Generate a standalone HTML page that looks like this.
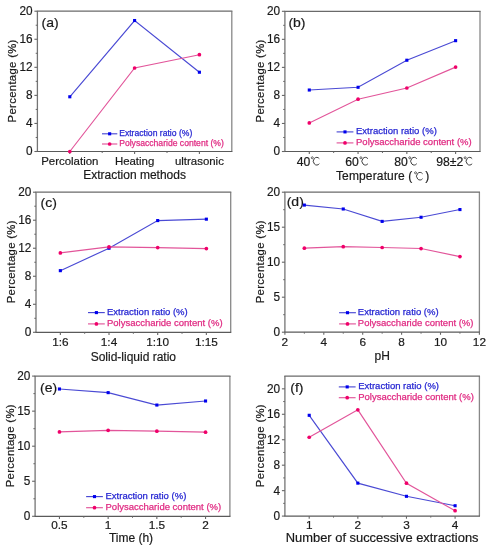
<!DOCTYPE html>
<html><head><meta charset="utf-8"><style>
html,body{margin:0;padding:0;background:#fff;}
svg{display:block;filter:blur(0.35px);}
text.k{stroke-width:0.2px;}
.k{stroke:#1a1a1a;}
</style></head><body>
<svg width="490" height="550" viewBox="0 0 490 550" font-family='"Liberation Sans", sans-serif' fill="#1a1a1a" stroke="none">
<rect x="0" y="0" width="490" height="550" fill="#ffffff"/>
<path d="M231.8,11.2 V151.5" fill="none" stroke="#888888" stroke-width="1.3"/>
<path d="M37.4,151.5 V11.2" fill="none" stroke="#747474" stroke-width="1.3"/>
<path d="M36.8,11.2 H232.4" fill="none" stroke="#6a6a6a" stroke-width="1.25"/>
<path d="M36.8,151.5 H232.4" fill="none" stroke="#5a5a5a" stroke-width="1.2"/>
<line x1="34.4" y1="151.5" x2="37.4" y2="151.5" stroke="#666666" stroke-width="1.1"/>
<text class="k" transform="translate(32.7,155.45) scale(0.93,1)" text-anchor="end" font-size="12.7">0</text>
<line x1="34.4" y1="123.44" x2="37.4" y2="123.44" stroke="#666666" stroke-width="1.1"/>
<text class="k" transform="translate(32.7,127.39) scale(0.93,1)" text-anchor="end" font-size="12.7">4</text>
<line x1="34.4" y1="95.38" x2="37.4" y2="95.38" stroke="#666666" stroke-width="1.1"/>
<text class="k" transform="translate(32.7,99.33) scale(0.93,1)" text-anchor="end" font-size="12.7">8</text>
<line x1="34.4" y1="67.32" x2="37.4" y2="67.32" stroke="#666666" stroke-width="1.1"/>
<text class="k" transform="translate(32.7,71.27) scale(0.93,1)" text-anchor="end" font-size="12.7">12</text>
<line x1="34.4" y1="39.26" x2="37.4" y2="39.26" stroke="#666666" stroke-width="1.1"/>
<text class="k" transform="translate(32.7,43.21) scale(0.93,1)" text-anchor="end" font-size="12.7">16</text>
<line x1="34.4" y1="11.2" x2="37.4" y2="11.2" stroke="#666666" stroke-width="1.1"/>
<text class="k" transform="translate(32.7,15.15) scale(0.93,1)" text-anchor="end" font-size="12.7">20</text>
<line x1="35.7" y1="137.47" x2="37.4" y2="137.47" stroke="#666666" stroke-width="1"/>
<line x1="35.7" y1="109.41" x2="37.4" y2="109.41" stroke="#666666" stroke-width="1"/>
<line x1="35.7" y1="81.35" x2="37.4" y2="81.35" stroke="#666666" stroke-width="1"/>
<line x1="35.7" y1="53.29" x2="37.4" y2="53.29" stroke="#666666" stroke-width="1"/>
<line x1="35.7" y1="25.23" x2="37.4" y2="25.23" stroke="#666666" stroke-width="1"/>
<line x1="69.8" y1="151.5" x2="69.8" y2="154.1" stroke="#666666" stroke-width="1.1"/>
<text class="k" x="69.8" y="164.6" text-anchor="middle" font-size="11.45">Percolation</text>
<line x1="134.6" y1="151.5" x2="134.6" y2="154.1" stroke="#666666" stroke-width="1.1"/>
<text class="k" x="134.6" y="164.6" text-anchor="middle" font-size="11.45">Heating</text>
<line x1="199.4" y1="151.5" x2="199.4" y2="154.1" stroke="#666666" stroke-width="1.1"/>
<text class="k" x="199.4" y="164.6" text-anchor="middle" font-size="11.45">ultrasonic</text>
<line x1="102.2" y1="151.5" x2="102.2" y2="153" stroke="#666666" stroke-width="1"/>
<line x1="167" y1="151.5" x2="167" y2="153" stroke="#666666" stroke-width="1"/>
<text class="k" transform="translate(16,80.85) rotate(-90)" text-anchor="middle" font-size="11.3" letter-spacing="0.33">Percentage (%)</text>
<text class="k" x="134.6" y="179.1" text-anchor="middle" font-size="12">Extraction methods</text>
<text class="k" transform="translate(41.5,27) scale(1.03,1)" font-size="13.6">(a)</text>
<polyline points="69.8,96.78 134.6,20.53 199.4,72.23" fill="none" stroke="#4a4ad4" stroke-width="1.15"/>
<rect x="68.25" y="95.23" width="3.1" height="3.1" fill="#0000ee"/>
<rect x="133.05" y="18.98" width="3.1" height="3.1" fill="#0000ee"/>
<rect x="197.85" y="70.68" width="3.1" height="3.1" fill="#0000ee"/>
<polyline points="69.8,151.5 134.6,68.02 199.4,54.69" fill="none" stroke="#e2559a" stroke-width="1.15"/>
<circle cx="69.8" cy="151.5" r="1.85" fill="#f0006a"/>
<circle cx="134.6" cy="68.02" r="1.85" fill="#f0006a"/>
<circle cx="199.4" cy="54.69" r="1.85" fill="#f0006a"/>
<line x1="102" y1="133.8" x2="117.3" y2="133.8" stroke="#4a4ad4" stroke-width="1.15"/>
<rect x="108.1" y="132.25" width="3.1" height="3.1" fill="#0000ee"/>
<text x="119.21" y="136.02" font-size="8.6" fill="#2626d2" stroke="#2626d2" stroke-width="0.25">Extraction ratio (%)</text>
<line x1="102" y1="144" x2="117.3" y2="144" stroke="#e2559a" stroke-width="1.15"/>
<circle cx="109.65" cy="144" r="1.85" fill="#f0006a"/>
<text x="119.21" y="146.22" font-size="8.6" fill="#e02a82" stroke="#e02a82" stroke-width="0.25">Polysaccharide content (%)</text>
<path d="M480,11.3 V151.5" fill="none" stroke="#888888" stroke-width="1.3"/>
<path d="M284.9,151.5 V11.3" fill="none" stroke="#747474" stroke-width="1.3"/>
<path d="M284.3,11.3 H480.6" fill="none" stroke="#6a6a6a" stroke-width="1.25"/>
<path d="M284.3,151.5 H480.6" fill="none" stroke="#5a5a5a" stroke-width="1.2"/>
<line x1="281.9" y1="151.5" x2="284.9" y2="151.5" stroke="#666666" stroke-width="1.1"/>
<text class="k" transform="translate(280.2,155.1) scale(0.93,1)" text-anchor="end" font-size="12.7">0</text>
<line x1="281.9" y1="123.46" x2="284.9" y2="123.46" stroke="#666666" stroke-width="1.1"/>
<text class="k" transform="translate(280.2,127.06) scale(0.93,1)" text-anchor="end" font-size="12.7">4</text>
<line x1="281.9" y1="95.42" x2="284.9" y2="95.42" stroke="#666666" stroke-width="1.1"/>
<text class="k" transform="translate(280.2,99.02) scale(0.93,1)" text-anchor="end" font-size="12.7">8</text>
<line x1="281.9" y1="67.38" x2="284.9" y2="67.38" stroke="#666666" stroke-width="1.1"/>
<text class="k" transform="translate(280.2,70.98) scale(0.93,1)" text-anchor="end" font-size="12.7">12</text>
<line x1="281.9" y1="39.34" x2="284.9" y2="39.34" stroke="#666666" stroke-width="1.1"/>
<text class="k" transform="translate(280.2,42.94) scale(0.93,1)" text-anchor="end" font-size="12.7">16</text>
<line x1="281.9" y1="11.3" x2="284.9" y2="11.3" stroke="#666666" stroke-width="1.1"/>
<text class="k" transform="translate(280.2,14.9) scale(0.93,1)" text-anchor="end" font-size="12.7">20</text>
<line x1="283.2" y1="137.48" x2="284.9" y2="137.48" stroke="#666666" stroke-width="1"/>
<line x1="283.2" y1="109.44" x2="284.9" y2="109.44" stroke="#666666" stroke-width="1"/>
<line x1="283.2" y1="81.4" x2="284.9" y2="81.4" stroke="#666666" stroke-width="1"/>
<line x1="283.2" y1="53.36" x2="284.9" y2="53.36" stroke="#666666" stroke-width="1"/>
<line x1="283.2" y1="25.32" x2="284.9" y2="25.32" stroke="#666666" stroke-width="1"/>
<line x1="309.29" y1="151.5" x2="309.29" y2="154.1" stroke="#666666" stroke-width="1.1"/>
<text class="k" x="296.7" y="165.5" font-size="12.2">40</text>
<circle cx="312.29" cy="157.78" r="1.0" fill="none" stroke="#333333" stroke-width="0.75"/>
<path d="M319.33,158.73 A3.38,3.86 0 1 0 319.33,163.69" fill="none" stroke="#333333" stroke-width="0.95"/>
<line x1="358.06" y1="151.5" x2="358.06" y2="154.1" stroke="#666666" stroke-width="1.1"/>
<text class="k" x="345.31" y="165.5" font-size="12.2">60</text>
<circle cx="360.9" cy="157.78" r="1.0" fill="none" stroke="#333333" stroke-width="0.75"/>
<path d="M367.93,158.73 A3.38,3.86 0 1 0 367.93,163.69" fill="none" stroke="#333333" stroke-width="0.95"/>
<line x1="406.84" y1="151.5" x2="406.84" y2="154.1" stroke="#666666" stroke-width="1.1"/>
<text class="k" x="394.13" y="165.5" font-size="12.2">80</text>
<circle cx="409.72" cy="157.78" r="1.0" fill="none" stroke="#333333" stroke-width="0.75"/>
<path d="M416.75,158.73 A3.38,3.86 0 1 0 416.75,163.69" fill="none" stroke="#333333" stroke-width="0.95"/>
<line x1="455.61" y1="151.5" x2="455.61" y2="154.1" stroke="#666666" stroke-width="1.1"/>
<text class="k" x="436.21" y="165.5" font-size="12.2">98±2</text>
<circle cx="465.15" cy="157.78" r="1.0" fill="none" stroke="#333333" stroke-width="0.75"/>
<path d="M472.18,158.73 A3.38,3.86 0 1 0 472.18,163.69" fill="none" stroke="#333333" stroke-width="0.95"/>
<line x1="333.67" y1="151.5" x2="333.67" y2="153" stroke="#666666" stroke-width="1"/>
<line x1="382.45" y1="151.5" x2="382.45" y2="153" stroke="#666666" stroke-width="1"/>
<line x1="431.23" y1="151.5" x2="431.23" y2="153" stroke="#666666" stroke-width="1"/>
<text class="k" transform="translate(263.5,80.9) rotate(-90)" text-anchor="middle" font-size="11.3" letter-spacing="0.33">Percentage (%)</text>
<text class="k" x="335.98" y="179.5" font-size="12" letter-spacing="0.14">Temperature (</text>
<circle cx="415.54" cy="172.8" r="1.0" fill="none" stroke="#333333" stroke-width="0.75"/>
<path d="M422.57,173.74 A3.38,3.82 0 1 0 422.57,178.66" fill="none" stroke="#333333" stroke-width="0.95"/>
<text class="k" x="425.36" y="179.5" font-size="12">)</text>
<text class="k" transform="translate(288.38,26.9) scale(1.03,1)" font-size="13.6">(b)</text>
<polyline points="309.29,90.02 358.06,87.29 406.84,60.23 455.61,40.67" fill="none" stroke="#4a4ad4" stroke-width="1.15"/>
<rect x="307.74" y="88.47" width="3.1" height="3.1" fill="#0000ee"/>
<rect x="356.51" y="85.74" width="3.1" height="3.1" fill="#0000ee"/>
<rect x="405.29" y="58.68" width="3.1" height="3.1" fill="#0000ee"/>
<rect x="454.06" y="39.12" width="3.1" height="3.1" fill="#0000ee"/>
<polyline points="309.29,122.9 358.06,99.21 406.84,87.99 455.61,67.1" fill="none" stroke="#e2559a" stroke-width="1.15"/>
<circle cx="309.29" cy="122.9" r="1.85" fill="#f0006a"/>
<circle cx="358.06" cy="99.21" r="1.85" fill="#f0006a"/>
<circle cx="406.84" cy="87.99" r="1.85" fill="#f0006a"/>
<circle cx="455.61" cy="67.1" r="1.85" fill="#f0006a"/>
<line x1="336.6" y1="131.9" x2="353.4" y2="131.9" stroke="#4a4ad4" stroke-width="1.15"/>
<rect x="343.45" y="130.35" width="3.1" height="3.1" fill="#0000ee"/>
<text x="356.04" y="134.43" font-size="9.5" fill="#2626d2" stroke="#2626d2" stroke-width="0.25">Extraction ratio (%)</text>
<line x1="336.6" y1="142.9" x2="353.4" y2="142.9" stroke="#e2559a" stroke-width="1.15"/>
<circle cx="345" cy="142.9" r="1.85" fill="#f0006a"/>
<text x="356.04" y="145.43" font-size="9.5" fill="#e02a82" stroke="#e02a82" stroke-width="0.25">Polysaccharide content (%)</text>
<path d="M230.7,192.2 V332.3" fill="none" stroke="#888888" stroke-width="1.3"/>
<path d="M36,332.3 V192.2" fill="none" stroke="#747474" stroke-width="1.3"/>
<path d="M35.4,192.2 H231.3" fill="none" stroke="#6a6a6a" stroke-width="1.25"/>
<path d="M35.4,332.3 H231.3" fill="none" stroke="#5a5a5a" stroke-width="1.2"/>
<line x1="33" y1="332.3" x2="36" y2="332.3" stroke="#666666" stroke-width="1.1"/>
<text class="k" transform="translate(31.3,336.25) scale(0.93,1)" text-anchor="end" font-size="12.7">0</text>
<line x1="33" y1="304.28" x2="36" y2="304.28" stroke="#666666" stroke-width="1.1"/>
<text class="k" transform="translate(31.3,308.23) scale(0.93,1)" text-anchor="end" font-size="12.7">4</text>
<line x1="33" y1="276.26" x2="36" y2="276.26" stroke="#666666" stroke-width="1.1"/>
<text class="k" transform="translate(31.3,280.21) scale(0.93,1)" text-anchor="end" font-size="12.7">8</text>
<line x1="33" y1="248.24" x2="36" y2="248.24" stroke="#666666" stroke-width="1.1"/>
<text class="k" transform="translate(31.3,252.19) scale(0.93,1)" text-anchor="end" font-size="12.7">12</text>
<line x1="33" y1="220.22" x2="36" y2="220.22" stroke="#666666" stroke-width="1.1"/>
<text class="k" transform="translate(31.3,224.17) scale(0.93,1)" text-anchor="end" font-size="12.7">16</text>
<line x1="33" y1="192.2" x2="36" y2="192.2" stroke="#666666" stroke-width="1.1"/>
<text class="k" transform="translate(31.3,196.15) scale(0.93,1)" text-anchor="end" font-size="12.7">20</text>
<line x1="34.3" y1="318.29" x2="36" y2="318.29" stroke="#666666" stroke-width="1"/>
<line x1="34.3" y1="290.27" x2="36" y2="290.27" stroke="#666666" stroke-width="1"/>
<line x1="34.3" y1="262.25" x2="36" y2="262.25" stroke="#666666" stroke-width="1"/>
<line x1="34.3" y1="234.23" x2="36" y2="234.23" stroke="#666666" stroke-width="1"/>
<line x1="34.3" y1="206.21" x2="36" y2="206.21" stroke="#666666" stroke-width="1"/>
<line x1="60.34" y1="332.3" x2="60.34" y2="334.9" stroke="#666666" stroke-width="1.1"/>
<text class="k" x="60.34" y="346.3" text-anchor="middle" font-size="11.8">1:6</text>
<line x1="109.01" y1="332.3" x2="109.01" y2="334.9" stroke="#666666" stroke-width="1.1"/>
<text class="k" x="109.01" y="346.3" text-anchor="middle" font-size="11.8">1:4</text>
<line x1="157.69" y1="332.3" x2="157.69" y2="334.9" stroke="#666666" stroke-width="1.1"/>
<text class="k" x="157.69" y="346.3" text-anchor="middle" font-size="11.8">1:10</text>
<line x1="206.36" y1="332.3" x2="206.36" y2="334.9" stroke="#666666" stroke-width="1.1"/>
<text class="k" x="206.36" y="346.3" text-anchor="middle" font-size="11.8">1:15</text>
<line x1="84.67" y1="332.3" x2="84.67" y2="333.8" stroke="#666666" stroke-width="1"/>
<line x1="133.35" y1="332.3" x2="133.35" y2="333.8" stroke="#666666" stroke-width="1"/>
<line x1="182.02" y1="332.3" x2="182.02" y2="333.8" stroke="#666666" stroke-width="1"/>
<text class="k" transform="translate(14.6,261.75) rotate(-90)" text-anchor="middle" font-size="11.3" letter-spacing="0.33">Percentage (%)</text>
<text class="k" x="133.35" y="360.9" text-anchor="middle" font-size="12">Solid-liquid ratio</text>
<text class="k" transform="translate(40.48,206.8) scale(1.03,1)" font-size="13.6">(c)</text>
<polyline points="60.34,270.66 109.01,248.24 157.69,220.57 206.36,219.17" fill="none" stroke="#4a4ad4" stroke-width="1.15"/>
<rect x="58.79" y="269.11" width="3.1" height="3.1" fill="#0000ee"/>
<rect x="107.46" y="246.69" width="3.1" height="3.1" fill="#0000ee"/>
<rect x="156.14" y="219.02" width="3.1" height="3.1" fill="#0000ee"/>
<rect x="204.81" y="217.62" width="3.1" height="3.1" fill="#0000ee"/>
<polyline points="60.34,252.93 109.01,246.91 157.69,247.61 206.36,248.59" fill="none" stroke="#e2559a" stroke-width="1.15"/>
<circle cx="60.34" cy="252.93" r="1.85" fill="#f0006a"/>
<circle cx="109.01" cy="246.91" r="1.85" fill="#f0006a"/>
<circle cx="157.69" cy="247.61" r="1.85" fill="#f0006a"/>
<circle cx="206.36" cy="248.59" r="1.85" fill="#f0006a"/>
<line x1="88" y1="312.6" x2="104.8" y2="312.6" stroke="#4a4ad4" stroke-width="1.15"/>
<rect x="94.85" y="311.05" width="3.1" height="3.1" fill="#0000ee"/>
<text x="106.94" y="315.13" font-size="9.5" fill="#2626d2" stroke="#2626d2" stroke-width="0.25">Extraction ratio (%)</text>
<line x1="88" y1="323.9" x2="104.8" y2="323.9" stroke="#e2559a" stroke-width="1.15"/>
<circle cx="96.4" cy="323.9" r="1.85" fill="#f0006a"/>
<text x="106.94" y="326.43" font-size="9.5" fill="#e02a82" stroke="#e02a82" stroke-width="0.25">Polysaccharide content (%)</text>
<path d="M479.4,192.2 V332.2" fill="none" stroke="#888888" stroke-width="1.3"/>
<path d="M284.9,332.2 V192.2" fill="none" stroke="#747474" stroke-width="1.3"/>
<path d="M284.3,192.2 H480" fill="none" stroke="#6a6a6a" stroke-width="1.25"/>
<path d="M284.3,332.2 H480" fill="none" stroke="#5a5a5a" stroke-width="1.2"/>
<line x1="281.9" y1="332.2" x2="284.9" y2="332.2" stroke="#666666" stroke-width="1.1"/>
<text class="k" transform="translate(280.2,336.15) scale(0.93,1)" text-anchor="end" font-size="12.7">0</text>
<line x1="281.9" y1="297.2" x2="284.9" y2="297.2" stroke="#666666" stroke-width="1.1"/>
<text class="k" transform="translate(280.2,301.15) scale(0.93,1)" text-anchor="end" font-size="12.7">5</text>
<line x1="281.9" y1="262.2" x2="284.9" y2="262.2" stroke="#666666" stroke-width="1.1"/>
<text class="k" transform="translate(280.2,266.15) scale(0.93,1)" text-anchor="end" font-size="12.7">10</text>
<line x1="281.9" y1="227.2" x2="284.9" y2="227.2" stroke="#666666" stroke-width="1.1"/>
<text class="k" transform="translate(280.2,231.15) scale(0.93,1)" text-anchor="end" font-size="12.7">15</text>
<line x1="281.9" y1="192.2" x2="284.9" y2="192.2" stroke="#666666" stroke-width="1.1"/>
<text class="k" transform="translate(280.2,196.15) scale(0.93,1)" text-anchor="end" font-size="12.7">20</text>
<line x1="283.2" y1="314.7" x2="284.9" y2="314.7" stroke="#666666" stroke-width="1"/>
<line x1="283.2" y1="279.7" x2="284.9" y2="279.7" stroke="#666666" stroke-width="1"/>
<line x1="283.2" y1="244.7" x2="284.9" y2="244.7" stroke="#666666" stroke-width="1"/>
<line x1="283.2" y1="209.7" x2="284.9" y2="209.7" stroke="#666666" stroke-width="1"/>
<line x1="284.9" y1="332.2" x2="284.9" y2="334.8" stroke="#666666" stroke-width="1.1"/>
<text class="k" x="284.9" y="345.5" text-anchor="middle" font-size="11.8">2</text>
<line x1="323.8" y1="332.2" x2="323.8" y2="334.8" stroke="#666666" stroke-width="1.1"/>
<text class="k" x="323.8" y="345.5" text-anchor="middle" font-size="11.8">4</text>
<line x1="362.7" y1="332.2" x2="362.7" y2="334.8" stroke="#666666" stroke-width="1.1"/>
<text class="k" x="362.7" y="345.5" text-anchor="middle" font-size="11.8">6</text>
<line x1="401.6" y1="332.2" x2="401.6" y2="334.8" stroke="#666666" stroke-width="1.1"/>
<text class="k" x="401.6" y="345.5" text-anchor="middle" font-size="11.8">8</text>
<line x1="440.5" y1="332.2" x2="440.5" y2="334.8" stroke="#666666" stroke-width="1.1"/>
<text class="k" x="440.5" y="345.5" text-anchor="middle" font-size="11.8">10</text>
<line x1="479.4" y1="332.2" x2="479.4" y2="334.8" stroke="#666666" stroke-width="1.1"/>
<text class="k" x="479.4" y="345.5" text-anchor="middle" font-size="11.8">12</text>
<line x1="304.35" y1="332.2" x2="304.35" y2="333.7" stroke="#666666" stroke-width="1"/>
<line x1="343.25" y1="332.2" x2="343.25" y2="333.7" stroke="#666666" stroke-width="1"/>
<line x1="382.15" y1="332.2" x2="382.15" y2="333.7" stroke="#666666" stroke-width="1"/>
<line x1="421.05" y1="332.2" x2="421.05" y2="333.7" stroke="#666666" stroke-width="1"/>
<line x1="459.95" y1="332.2" x2="459.95" y2="333.7" stroke="#666666" stroke-width="1"/>
<text class="k" transform="translate(263.5,261.7) rotate(-90)" text-anchor="middle" font-size="11.3" letter-spacing="0.33">Percentage (%)</text>
<text class="k" x="382.15" y="360.4" text-anchor="middle" font-size="12">pH</text>
<text class="k" transform="translate(286.68,206.22) scale(1.03,1)" font-size="13.6">(d)</text>
<polyline points="304.35,205.08 343.25,209 382.15,221.39 421.05,217.26 459.95,209.56" fill="none" stroke="#4a4ad4" stroke-width="1.15"/>
<rect x="302.8" y="203.53" width="3.1" height="3.1" fill="#0000ee"/>
<rect x="341.7" y="207.45" width="3.1" height="3.1" fill="#0000ee"/>
<rect x="380.6" y="219.84" width="3.1" height="3.1" fill="#0000ee"/>
<rect x="419.5" y="215.71" width="3.1" height="3.1" fill="#0000ee"/>
<rect x="458.4" y="208.01" width="3.1" height="3.1" fill="#0000ee"/>
<polyline points="304.35,248.13 343.25,246.66 382.15,247.5 421.05,248.55 459.95,256.6" fill="none" stroke="#e2559a" stroke-width="1.15"/>
<circle cx="304.35" cy="248.13" r="1.85" fill="#f0006a"/>
<circle cx="343.25" cy="246.66" r="1.85" fill="#f0006a"/>
<circle cx="382.15" cy="247.5" r="1.85" fill="#f0006a"/>
<circle cx="421.05" cy="248.55" r="1.85" fill="#f0006a"/>
<circle cx="459.95" cy="256.6" r="1.85" fill="#f0006a"/>
<line x1="339.1" y1="312.7" x2="355.9" y2="312.7" stroke="#4a4ad4" stroke-width="1.15"/>
<rect x="345.95" y="311.15" width="3.1" height="3.1" fill="#0000ee"/>
<text x="357.84" y="315.23" font-size="9.5" fill="#2626d2" stroke="#2626d2" stroke-width="0.25">Extraction ratio (%)</text>
<line x1="339.1" y1="323.9" x2="355.9" y2="323.9" stroke="#e2559a" stroke-width="1.15"/>
<circle cx="347.5" cy="323.9" r="1.85" fill="#f0006a"/>
<text x="357.84" y="326.43" font-size="9.5" fill="#e02a82" stroke="#e02a82" stroke-width="0.25">Polysaccharide content (%)</text>
<path d="M229.9,376.1 V516.3" fill="none" stroke="#888888" stroke-width="1.3"/>
<path d="M35.1,516.3 V376.1" fill="none" stroke="#747474" stroke-width="1.3"/>
<path d="M34.5,376.1 H230.5" fill="none" stroke="#6a6a6a" stroke-width="1.25"/>
<path d="M34.5,516.3 H230.5" fill="none" stroke="#5a5a5a" stroke-width="1.2"/>
<line x1="32.1" y1="516.3" x2="35.1" y2="516.3" stroke="#666666" stroke-width="1.1"/>
<text class="k" transform="translate(30.4,520.25) scale(0.93,1)" text-anchor="end" font-size="12.7">0</text>
<line x1="32.1" y1="481.25" x2="35.1" y2="481.25" stroke="#666666" stroke-width="1.1"/>
<text class="k" transform="translate(30.4,485.2) scale(0.93,1)" text-anchor="end" font-size="12.7">5</text>
<line x1="32.1" y1="446.2" x2="35.1" y2="446.2" stroke="#666666" stroke-width="1.1"/>
<text class="k" transform="translate(30.4,450.15) scale(0.93,1)" text-anchor="end" font-size="12.7">10</text>
<line x1="32.1" y1="411.15" x2="35.1" y2="411.15" stroke="#666666" stroke-width="1.1"/>
<text class="k" transform="translate(30.4,415.1) scale(0.93,1)" text-anchor="end" font-size="12.7">15</text>
<line x1="32.1" y1="376.1" x2="35.1" y2="376.1" stroke="#666666" stroke-width="1.1"/>
<text class="k" transform="translate(30.4,380.05) scale(0.93,1)" text-anchor="end" font-size="12.7">20</text>
<line x1="33.4" y1="498.77" x2="35.1" y2="498.77" stroke="#666666" stroke-width="1"/>
<line x1="33.4" y1="463.72" x2="35.1" y2="463.72" stroke="#666666" stroke-width="1"/>
<line x1="33.4" y1="428.68" x2="35.1" y2="428.68" stroke="#666666" stroke-width="1"/>
<line x1="33.4" y1="393.62" x2="35.1" y2="393.62" stroke="#666666" stroke-width="1"/>
<line x1="59.45" y1="516.3" x2="59.45" y2="518.9" stroke="#666666" stroke-width="1.1"/>
<text class="k" x="59.45" y="529.3" text-anchor="middle" font-size="11.8">0.5</text>
<line x1="108.15" y1="516.3" x2="108.15" y2="518.9" stroke="#666666" stroke-width="1.1"/>
<text class="k" x="108.15" y="529.3" text-anchor="middle" font-size="11.8">1</text>
<line x1="156.85" y1="516.3" x2="156.85" y2="518.9" stroke="#666666" stroke-width="1.1"/>
<text class="k" x="156.85" y="529.3" text-anchor="middle" font-size="11.8">1.5</text>
<line x1="205.55" y1="516.3" x2="205.55" y2="518.9" stroke="#666666" stroke-width="1.1"/>
<text class="k" x="205.55" y="529.3" text-anchor="middle" font-size="11.8">2</text>
<line x1="83.8" y1="516.3" x2="83.8" y2="517.8" stroke="#666666" stroke-width="1"/>
<line x1="132.5" y1="516.3" x2="132.5" y2="517.8" stroke="#666666" stroke-width="1"/>
<line x1="181.2" y1="516.3" x2="181.2" y2="517.8" stroke="#666666" stroke-width="1"/>
<text class="k" transform="translate(13.7,445.7) rotate(-90)" text-anchor="middle" font-size="11.3" letter-spacing="0.33">Percentage (%)</text>
<text class="k" x="131" y="542.4" text-anchor="middle" font-size="12">Time (h)</text>
<text class="k" transform="translate(40,392.32) scale(1.03,1)" font-size="13.6">(e)</text>
<polyline points="59.45,389 108.15,392.64 156.85,405.05 205.55,400.99" fill="none" stroke="#4a4ad4" stroke-width="1.15"/>
<rect x="57.9" y="387.45" width="3.1" height="3.1" fill="#0000ee"/>
<rect x="106.6" y="391.09" width="3.1" height="3.1" fill="#0000ee"/>
<rect x="155.3" y="403.5" width="3.1" height="3.1" fill="#0000ee"/>
<rect x="204" y="399.44" width="3.1" height="3.1" fill="#0000ee"/>
<polyline points="59.45,431.9 108.15,430.36 156.85,431.13 205.55,432.18" fill="none" stroke="#e2559a" stroke-width="1.15"/>
<circle cx="59.45" cy="431.9" r="1.85" fill="#f0006a"/>
<circle cx="108.15" cy="430.36" r="1.85" fill="#f0006a"/>
<circle cx="156.85" cy="431.13" r="1.85" fill="#f0006a"/>
<circle cx="205.55" cy="432.18" r="1.85" fill="#f0006a"/>
<line x1="86.1" y1="496.6" x2="102.9" y2="496.6" stroke="#4a4ad4" stroke-width="1.15"/>
<rect x="92.95" y="495.05" width="3.1" height="3.1" fill="#0000ee"/>
<text x="105.54" y="499.13" font-size="9.5" fill="#2626d2" stroke="#2626d2" stroke-width="0.25">Extraction ratio (%)</text>
<line x1="86.1" y1="507.7" x2="102.9" y2="507.7" stroke="#e2559a" stroke-width="1.15"/>
<circle cx="94.5" cy="507.7" r="1.85" fill="#f0006a"/>
<text x="105.54" y="510.23" font-size="9.5" fill="#e02a82" stroke="#e02a82" stroke-width="0.25">Polysaccharide content (%)</text>
<path d="M479.4,376.1 V516.1" fill="none" stroke="#888888" stroke-width="1.3"/>
<path d="M284.9,516.1 V376.1" fill="none" stroke="#747474" stroke-width="1.3"/>
<path d="M284.3,376.1 H480" fill="none" stroke="#6a6a6a" stroke-width="1.25"/>
<path d="M284.3,516.1 H480" fill="none" stroke="#5a5a5a" stroke-width="1.2"/>
<line x1="281.9" y1="516.1" x2="284.9" y2="516.1" stroke="#666666" stroke-width="1.1"/>
<text class="k" transform="translate(280.2,520.05) scale(0.93,1)" text-anchor="end" font-size="12.7">0</text>
<line x1="281.9" y1="490.65" x2="284.9" y2="490.65" stroke="#666666" stroke-width="1.1"/>
<text class="k" transform="translate(280.2,494.6) scale(0.93,1)" text-anchor="end" font-size="12.7">4</text>
<line x1="281.9" y1="465.19" x2="284.9" y2="465.19" stroke="#666666" stroke-width="1.1"/>
<text class="k" transform="translate(280.2,469.14) scale(0.93,1)" text-anchor="end" font-size="12.7">8</text>
<line x1="281.9" y1="439.74" x2="284.9" y2="439.74" stroke="#666666" stroke-width="1.1"/>
<text class="k" transform="translate(280.2,443.69) scale(0.93,1)" text-anchor="end" font-size="12.7">12</text>
<line x1="281.9" y1="414.28" x2="284.9" y2="414.28" stroke="#666666" stroke-width="1.1"/>
<text class="k" transform="translate(280.2,418.23) scale(0.93,1)" text-anchor="end" font-size="12.7">16</text>
<line x1="281.9" y1="388.83" x2="284.9" y2="388.83" stroke="#666666" stroke-width="1.1"/>
<text class="k" transform="translate(280.2,392.78) scale(0.93,1)" text-anchor="end" font-size="12.7">20</text>
<line x1="283.2" y1="503.37" x2="284.9" y2="503.37" stroke="#666666" stroke-width="1"/>
<line x1="283.2" y1="477.92" x2="284.9" y2="477.92" stroke="#666666" stroke-width="1"/>
<line x1="283.2" y1="452.46" x2="284.9" y2="452.46" stroke="#666666" stroke-width="1"/>
<line x1="283.2" y1="427.01" x2="284.9" y2="427.01" stroke="#666666" stroke-width="1"/>
<line x1="283.2" y1="401.55" x2="284.9" y2="401.55" stroke="#666666" stroke-width="1"/>
<line x1="309.21" y1="516.1" x2="309.21" y2="518.7" stroke="#666666" stroke-width="1.1"/>
<text class="k" x="309.21" y="529.4" text-anchor="middle" font-size="11.8">1</text>
<line x1="357.84" y1="516.1" x2="357.84" y2="518.7" stroke="#666666" stroke-width="1.1"/>
<text class="k" x="357.84" y="529.4" text-anchor="middle" font-size="11.8">2</text>
<line x1="406.46" y1="516.1" x2="406.46" y2="518.7" stroke="#666666" stroke-width="1.1"/>
<text class="k" x="406.46" y="529.4" text-anchor="middle" font-size="11.8">3</text>
<line x1="455.09" y1="516.1" x2="455.09" y2="518.7" stroke="#666666" stroke-width="1.1"/>
<text class="k" x="455.09" y="529.4" text-anchor="middle" font-size="11.8">4</text>
<line x1="333.52" y1="516.1" x2="333.52" y2="517.6" stroke="#666666" stroke-width="1"/>
<line x1="382.15" y1="516.1" x2="382.15" y2="517.6" stroke="#666666" stroke-width="1"/>
<line x1="430.77" y1="516.1" x2="430.77" y2="517.6" stroke="#666666" stroke-width="1"/>
<text class="k" transform="translate(263.5,445.6) rotate(-90)" text-anchor="middle" font-size="11.3" letter-spacing="0.33">Percentage (%)</text>
<text class="k" x="382.15" y="541.9" text-anchor="middle" font-size="12.9">Number of successive extractions</text>
<text class="k" transform="translate(290.3,391.8) scale(1.03,1)" font-size="13.6">(f)</text>
<polyline points="309.21,415.3 357.84,483.14 406.46,496.31 455.09,505.73" fill="none" stroke="#4a4ad4" stroke-width="1.15"/>
<rect x="307.66" y="413.75" width="3.1" height="3.1" fill="#0000ee"/>
<rect x="356.29" y="481.59" width="3.1" height="3.1" fill="#0000ee"/>
<rect x="404.91" y="494.76" width="3.1" height="3.1" fill="#0000ee"/>
<rect x="453.54" y="504.18" width="3.1" height="3.1" fill="#0000ee"/>
<polyline points="309.21,437.25 357.84,409.83 406.46,483.2 455.09,510.69" fill="none" stroke="#e2559a" stroke-width="1.15"/>
<circle cx="309.21" cy="437.25" r="1.85" fill="#f0006a"/>
<circle cx="357.84" cy="409.83" r="1.85" fill="#f0006a"/>
<circle cx="406.46" cy="483.2" r="1.85" fill="#f0006a"/>
<circle cx="455.09" cy="510.69" r="1.85" fill="#f0006a"/>
<line x1="338.8" y1="386.9" x2="355.6" y2="386.9" stroke="#4a4ad4" stroke-width="1.15"/>
<rect x="345.65" y="385.35" width="3.1" height="3.1" fill="#0000ee"/>
<text x="358.24" y="389.43" font-size="9.5" fill="#2626d2" stroke="#2626d2" stroke-width="0.25">Extraction ratio (%)</text>
<line x1="338.8" y1="397.7" x2="355.6" y2="397.7" stroke="#e2559a" stroke-width="1.15"/>
<circle cx="347.2" cy="397.7" r="1.85" fill="#f0006a"/>
<text x="358.24" y="400.23" font-size="9.5" fill="#e02a82" stroke="#e02a82" stroke-width="0.25">Polysaccharide content (%)</text>
</svg>
</body></html>
